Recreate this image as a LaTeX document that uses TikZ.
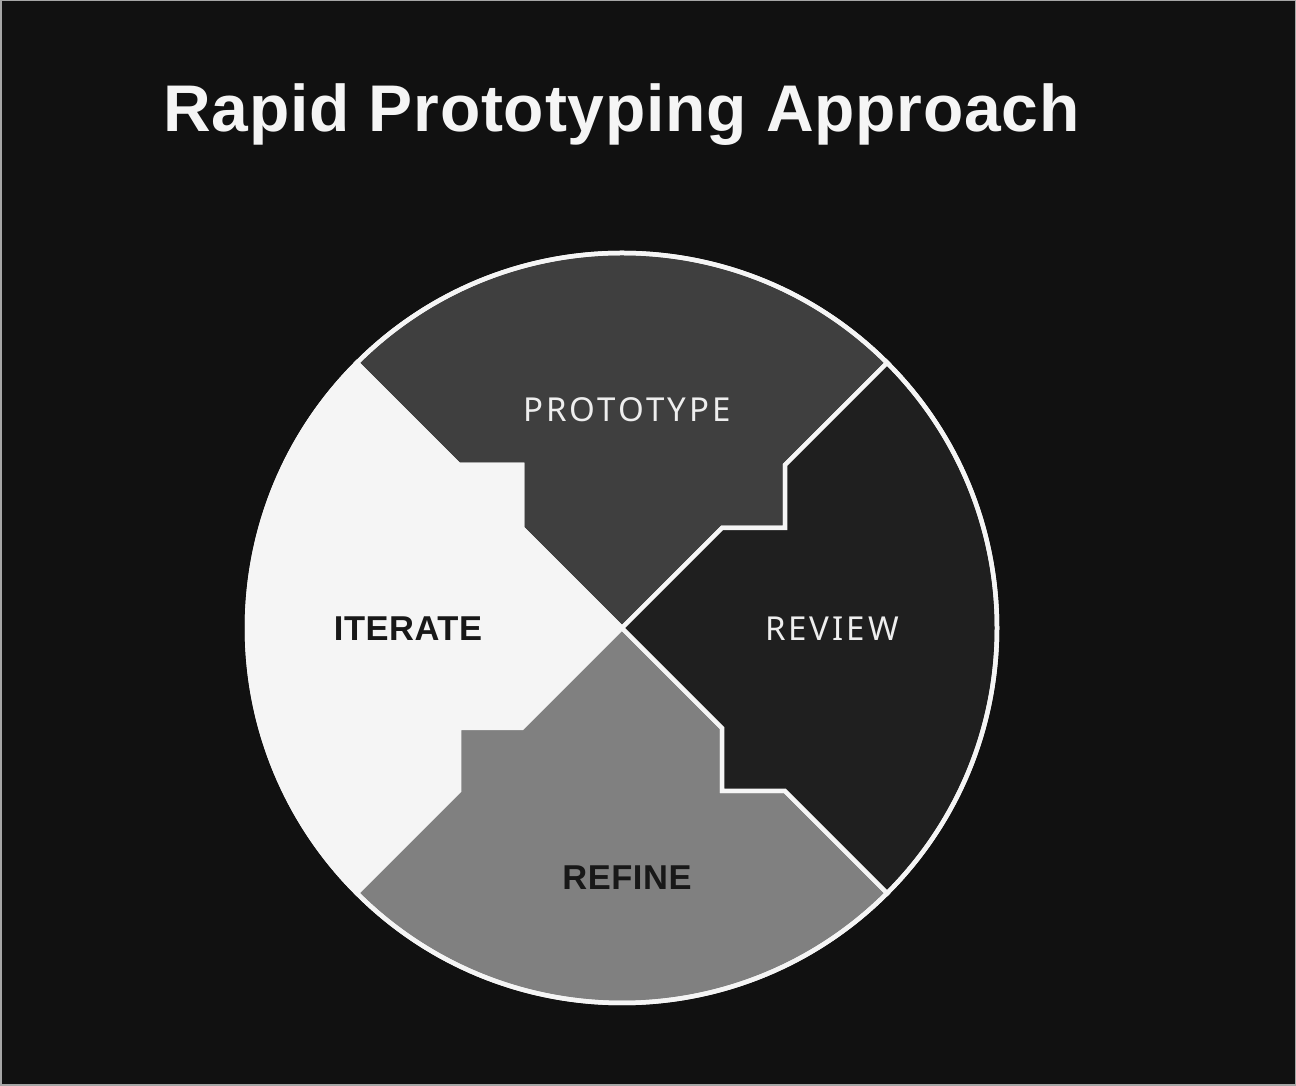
\documentclass[tikz,border=0pt]{standalone}
\usepackage{fontspec}
\setmainfont{Noto Sans}
\newfontfamily\boldsans{Liberation Sans}
\definecolor{bg}{HTML}{111111}
\definecolor{proto}{HTML}{3F3F3F}
\definecolor{review}{HTML}{1F1F1F}
\definecolor{refine}{HTML}{808080}
\definecolor{iter}{HTML}{F5F5F5}
\definecolor{ring}{HTML}{F5F5F5}
\definecolor{lighttext}{HTML}{EEEEEE}
\definecolor{darktext}{HTML}{181818}
\begin{document}
\begin{tikzpicture}[x=1pt,y=1pt,
  sector/.style={draw=ring,line width=4.5pt,line join=miter},
  lbllight/.style={text=lighttext,inner sep=0pt,font=\fontsize{33}{36}\selectfont\addfontfeature{LetterSpace=9}},
  lbldark/.style={text=darktext,inner sep=0pt,font=\boldsans\bfseries\fontsize{34.5}{38}\selectfont\addfontfeature{LetterSpace=1.5}}]
\useasboundingbox (0,0) rectangle (1296,1086);
\fill[bg] (0,0) rectangle (1296,1086);
\draw[gray!70,line width=1.5pt] (0.75,0.75) rectangle (1295.25,1085.25);
\node[anchor=base,inner sep=0pt,text=iter,font=\boldsans\bfseries\fontsize{66}{70}\selectfont\addfontfeature{LetterSpace=1.2}] (title) at (621.5,954) {Rapid Prototyping Approach};
\begin{scope}[shift={(622,458)}]
  % PROTOTYPE (top)
  \path[sector,fill=proto] (0,0) -- (100,100) -- (163,100) -- (163,163) -- (45:375)
    arc[start angle=45,end angle=135,radius=375] -- (-163,163) -- (-100,163) -- (-100,100) -- cycle;
  % ITERATE (left)
  \path[sector,fill=iter] (0,0) -- (-100,100) -- (-100,163) -- (-163,163) -- (135:375)
    arc[start angle=135,end angle=225,radius=375] -- (-163,-163) -- (-163,-100) -- (-100,-100) -- cycle;
  % REFINE (bottom)
  \path[sector,fill=refine] (0,0) -- (-100,-100) -- (-163,-100) -- (-163,-163) -- (225:375)
    arc[start angle=225,end angle=315,radius=375] -- (163,-163) -- (100,-163) -- (100,-100) -- cycle;
  % REVIEW (right)
  \path[sector,fill=review] (0,0) -- (100,-100) -- (100,-163) -- (163,-163) -- (-45:375)
    arc[start angle=-45,end angle=45,radius=375] -- (163,163) -- (163,100) -- (100,100) -- cycle;
  \draw[ring,line width=4.5pt] (0,0) circle[radius=375];
\end{scope}
\node[lbllight] (prototype) at (627,676) {PROTOTYPE};
\node[lbllight] (review) at (832,457) {REVIEW};
\node[lbldark] (iterate) at (408,457) {ITERATE};
\node[lbldark] (refine) at (627,208) {REFINE};
\end{tikzpicture}
\end{document}
